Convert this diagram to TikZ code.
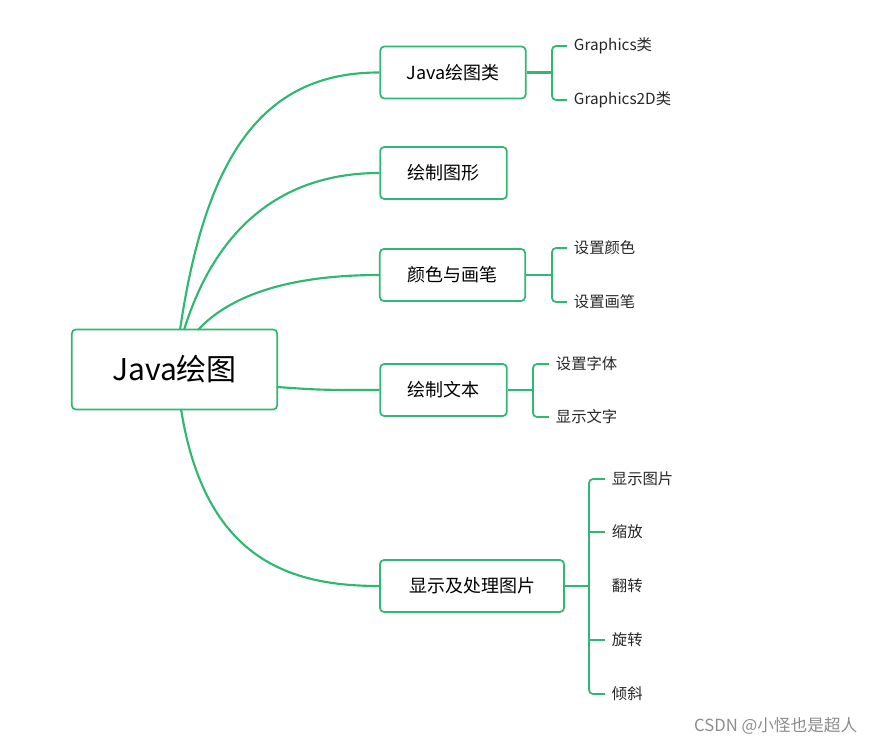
\documentclass[tikz,border=0pt]{standalone}
\usepackage{fontspec}
\setmainfont{Noto Sans CJK SC}
\begin{document}
\begin{tikzpicture}[x=0.75pt,y=-0.75pt,
  gr/.style={line width=1.6pt,draw=mg},
  box/.style={draw=mg,line width=1.3pt,rounded corners=3pt,fill=white,minimum height=39pt,anchor=center,font=\fontsize{13.5}{15}\selectfont},
  leaf/.style={anchor=west,inner sep=5pt,font=\fontsize{11.5}{13}\selectfont,text=black!85},
  br/.style={line width=1.3pt,draw=mg,rounded corners=3pt}]
\definecolor{mg}{RGB}{46,184,114}
\useasboundingbox (0,0) rectangle (877,746);
\node[box,minimum width=154pt,minimum height=60pt,font=\fontsize{22.5}{26}\selectfont] (root) at (174.5,369.5) {Java绘图};
\node[box,minimum width=109pt] (n1) at (453,72.5) {Java绘图类};
\node[box,minimum width=95pt] (n2) at (443.5,173) {绘制图形};
\node[box,minimum width=109pt] (n3) at (452.5,275) {颜色与画笔};
\node[box,minimum width=95pt] (n4) at (443.5,390) {绘制文本};
\node[box,minimum width=138pt] (n5) at (472,586) {显示及处理图片};
\coordinate (r1) at (180,330);
\coordinate (r2) at (184,330);
\coordinate (r3) at (198,330);
\coordinate (r4) at (277,387);
\coordinate (r5) at (181,409);
\draw[gr] (r1) .. controls (205,160) and (260,72) .. (n1.west);
\draw[gr] (r2) .. controls (215,230) and (280,173) .. (n2.west);
\draw[gr] (r3) .. controls (230,295) and (290,275) .. (n3.west);
\draw[gr] (r4) .. controls (320,390) .. (n4.west);
\draw[gr] (r5) .. controls (205,560) and (290,586) .. (n5.west);
% leaves
\node[leaf] (a1) at (567,46) {Graphics类};
\node[leaf] (a2) at (567,100) {Graphics2D类};
\draw[gr] (n1.east) -- (552,72.5);
\draw[br] (a1.west) -- (552,46) -- (552,100) -- (a2.west);
\node[leaf] (c1) at (567,248) {设置颜色};
\node[leaf] (c2) at (567,302) {设置画笔};
\draw[gr] (n3.east) -- (552,275);
\draw[br] (c1.west) -- (552,248) -- (552,302) -- (c2.west);
\node[leaf] (d1) at (549,364) {设置字体};
\node[leaf] (d2) at (549,417) {显示文字};
\draw[gr] (n4.east) -- (533,390);
\draw[br] (d1.west) -- (533,364) -- (533,417) -- (d2.west);
\node[leaf] (e1) at (605,479) {显示图片};
\node[leaf] (e2) at (605,532) {缩放};
\node[leaf] (e3) at (605,586) {翻转};
\node[leaf] (e4) at (605,640) {旋转};
\node[leaf] (e5) at (605,694) {倾斜};
\draw[gr] (n5.east) -- (589,586);
\draw[br] (e1.west) -- (589,479) -- (589,694) -- (e5.west);
\draw[br] (589,532) -- (e2.west);
\draw[br] (589,640) -- (e4.west);
\node[anchor=east,font=\fontsize{12.5}{14}\selectfont,text=black!45] (wm) at (862,726) {CSDN @小怪也是超人};
\end{tikzpicture}
\end{document}
